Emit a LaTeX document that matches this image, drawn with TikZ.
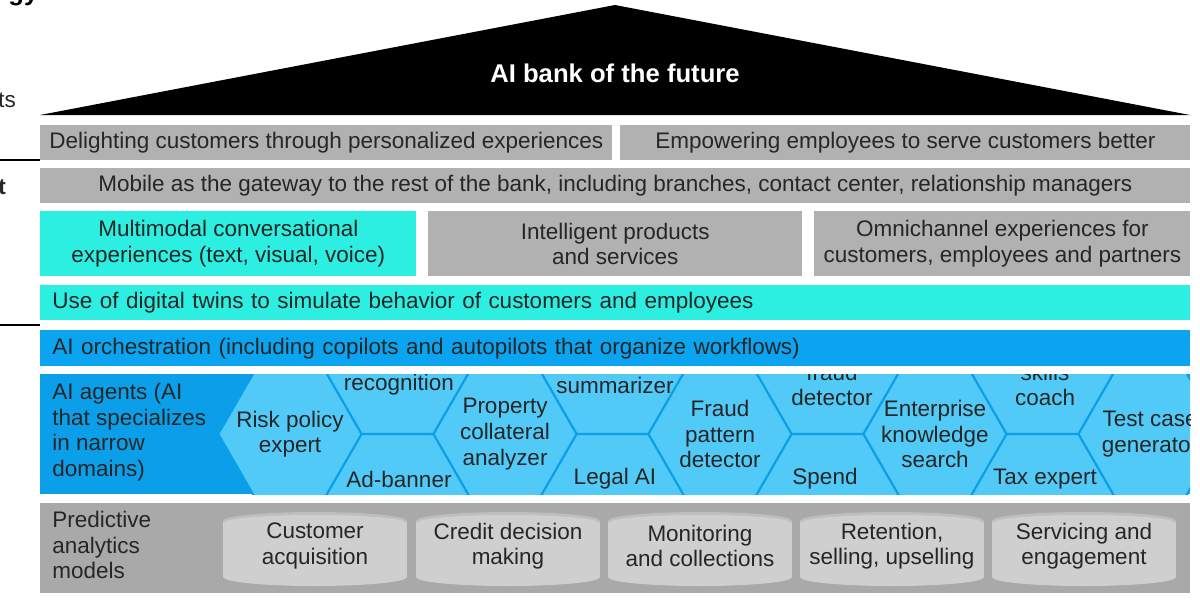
\documentclass[tikz,border=0pt]{standalone}
\usepackage{fontspec}
\setmainfont{Liberation Sans}
\usetikzlibrary{shapes.geometric}
\definecolor{boxgray}{HTML}{B1B1B1}
\definecolor{twin}{HTML}{2CEFE2}
\definecolor{orch}{HTML}{0AA4F0}
\definecolor{agent}{HTML}{0B9FEA}
\definecolor{hexfill}{HTML}{52CAF7}
\definecolor{predgray}{HTML}{A9A9A9}
\definecolor{cylgray}{HTML}{CFCFCF}
\tikzset{
  txt/.style={font=\fontsize{12.8}{14.6}\selectfont,align=center,text=black!85},
  bar/.style={txt,inner sep=0pt,anchor=north west},
  hex/.style={regular polygon,regular polygon sides=6,minimum size=143.5*0.02cm,
    draw=agent,line width=1.2pt,fill=hexfill,inner sep=0pt},
  cyltop/.style={fill=cylgray!92!black}
}
\begin{document}
\begin{tikzpicture}[x=0.02cm,y=-0.02cm]
    \useasboundingbox (0,0) rectangle (1200,600);
    \clip (0,0) rectangle (1200,600);
    % roof
    \fill (40,115) -- (615,5) -- (1190,115) -- cycle;
    \node[font=\fontsize{14.6}{16}\selectfont\bfseries,text=white] (roof) at (615,73) {AI bank of the future};
    \node[font=\fontsize{14.6}{16}\selectfont\bfseries,anchor=south west,inner sep=0pt] (title) at (8,6) {gy};
    \node[txt,anchor=west,inner sep=0pt] (cut1) at (-2,100) {ts};
    \node[txt,anchor=west,inner sep=0pt,font=\fontsize{12.8}{14.6}\selectfont\bfseries] (cut2) at (-2,187) {t};
    \coordinate (l1a) at (0,160); \coordinate (l1b) at (40,160);
    \coordinate (l2a) at (0,325); \coordinate (l2b) at (40,325);
    \draw[line width=0.8pt] (l1a) -- (l1b) (l2a) -- (l2b);
    % layers
    \node[bar,fill=boxgray,minimum width=572*0.02cm,minimum height=35*0.02cm] (delight) at (40,125) {Delighting customers through personalized experiences};
    \node[bar,fill=boxgray,minimum width=570*0.02cm,minimum height=35*0.02cm] (empower) at (620,125) {Empowering employees to serve customers better};
    \node[bar,fill=boxgray,minimum width=1150*0.02cm,minimum height=35*0.02cm] (mobile) at (40,168) {Mobile as the gateway to the rest of the bank, including branches, contact center, relationship managers};
    \node[bar,fill=twin,minimum width=376*0.02cm,minimum height=65*0.02cm] (multi) at (40,211) {Multimodal conversational\\experiences (text, visual, voice)};
    \node[bar,fill=boxgray,minimum width=374*0.02cm,minimum height=65*0.02cm] (intel) at (428,211) {Intelligent products\\and services};
    \node[bar,fill=boxgray,minimum width=376*0.02cm,minimum height=65*0.02cm] (omni) at (814,211) {Omnichannel experiences for\\customers, employees and partners};
    \node[bar,fill=twin,minimum width=1150*0.02cm,minimum height=35*0.02cm,text width=1126*0.02cm,align=left] (twins) at (40,285) {Use of digital twins to simulate behavior of customers and employees};
    \node[bar,fill=orch,minimum width=1150*0.02cm,minimum height=36*0.02cm,text width=1126*0.02cm,align=left] (orchestr) at (40,330) {AI orchestration (including copilots and autopilots that organize workflows)};
    % agents
    \fill[agent] (40,374) rectangle (1190,494);
    \begin{scope}
      \clip (40,374) rectangle (1190,494);
      \foreach \x/\lbl [count=\i] in {290/{Risk policy\\expert},505/{Property\\collateral\\analyzer},
          720/{Fraud\\pattern\\detector},935/{Enterprise\\knowledge\\search},1150/{Test case\\generator}} {
        \node[hex] (h\i) at (\x,434) {};
        \node[txt] (t\i) at (h\i) {\lbl};
      }
      \foreach \x [count=\i] in {397.5,612.5,827.5,1042.5} {
        \node[hex] (u\i) at (\x,371.8) {};
        \node[hex] (d\i) at (\x,496.2) {};
      }
      \node[txt] (recog) at (399,385) {recognition};
      \node[txt] (summ) at (615,385) {summarizer};
      \node[txt] (fdet) at (832,385) {fraud\\detector};
      \node[txt] (skill) at (1045,385) {skills\\coach};
      \node[txt] (adb) at (399,479) {Ad-banner};
      \node[txt] (legal) at (615,479) {Legal AI};
      \node[txt] (spend) at (825,479) {Spend};
      \node[txt] (tax) at (1045,479) {Tax expert};
    \end{scope}
    \node[txt,anchor=north west,align=left,inner sep=0pt] (agents) at (52,383) {AI agents (AI\\that specializes\\in narrow\\domains)};
    % predictive
    \fill[predgray] (40,503) rectangle (1190,593);
    \node[txt,anchor=north west,align=left,inner sep=0pt] (pred) at (52,511) {Predictive\\analytics\\models};
    \foreach \x/\name/\lbl in {315/c1/{Customer\\acquisition},508/c2/{Credit decision\\making},
        700/c3/{Monitoring\\and collections},892/c4/{Retention,\\selling, upselling},1084/c5/{Servicing and\\engagement}} {
      \fill[cylgray] (\x-92,521) rectangle (\x+92,577);
      \fill[cylgray] (\x,577) ellipse [x radius=92,y radius=9];
      \fill[cyltop] (\x,521) ellipse [x radius=92,y radius=9];
      \fill[cylgray] (\x,522.5) ellipse [x radius=90,y radius=7.5];
      \node[txt] (\name) at (\x,546) {\lbl};
    }
\end{tikzpicture}
\end{document}
